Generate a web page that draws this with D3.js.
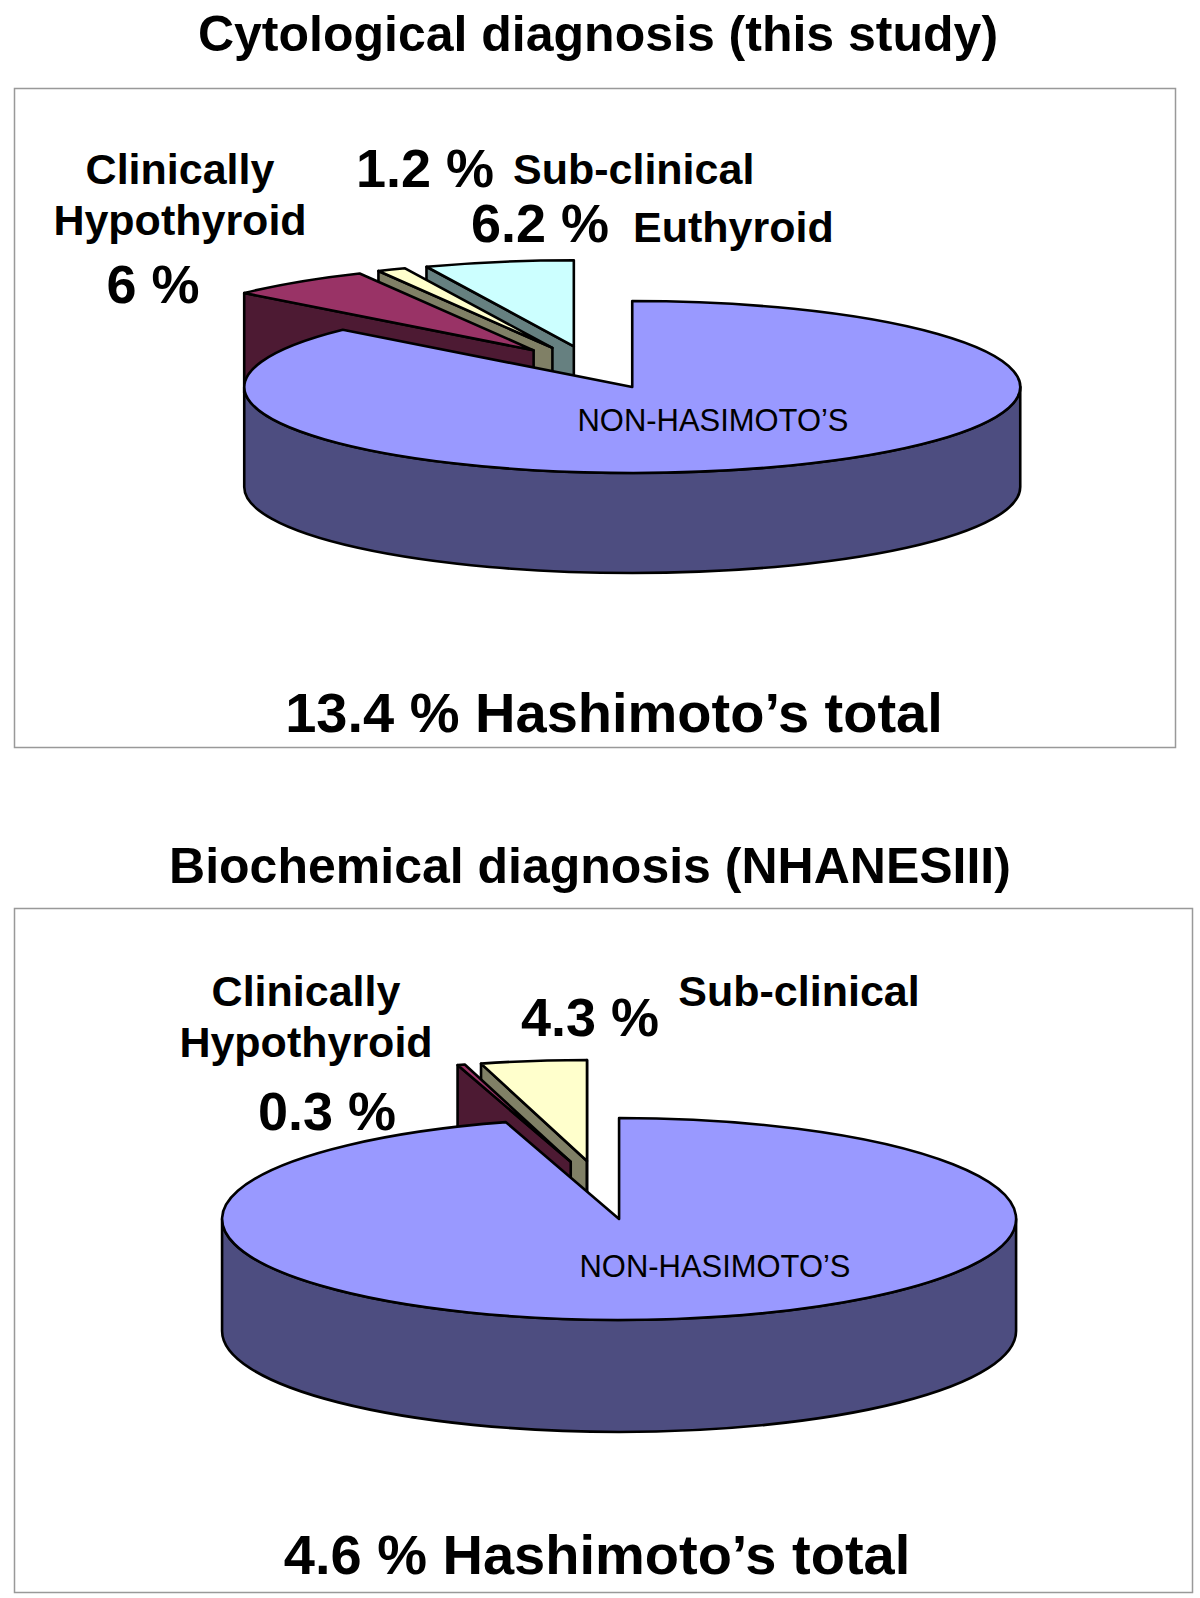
<!DOCTYPE html>
<html>
<head>
<meta charset="utf-8">
<script src="https://cdn.jsdelivr.net/npm/d3@7"></script>
<style>
  body { margin: 0; background: #fff; }
  text { font-family: "Liberation Sans", Arial, sans-serif; fill: #000; }
  .title, .big, .lab, .total { font-weight: bold; }
</style>
</head>
<body>
<div id="chart"></div>
<script>
// data
const topLabels = ["NON-HASIMOTO’S", "Clinically Hypothyroid", "Sub-clinical", "Euthyroid"];
const topValues = [86.6, 6, 1.2, 6.2];
const topColors = ["#9999ff", "#993366", "#ffffcc", "#ccffff"];

const bottomLabels = ["NON-HASIMOTO’S", "Clinically Hypothyroid", "Sub-clinical"];
const bottomValues = [95.4, 0.3, 4.3];
const bottomColors = ["#9999ff", "#993366", "#ffffcc"];

const W = 1200, H = 1598;

let svg = d3.select('#chart').append('svg')
  .attr('width', W)
  .attr('height', H);

// half-brightness colour for the sides
function darken(c) {
  let r = d3.rgb(c);
  return d3.rgb(r.r * 0.5, r.g * 0.5, r.b * 0.5).formatHex();
}

// draw one exploded 3d pie
function drawPie(g, values, colors, geo) {
  let arcs = d3.pie().sort(null).value(d => d)(values);
  let slices = arcs.map((a, i) => {
    let mid = (a.startAngle + a.endAngle) / 2;
    return {
      a0: a.startAngle, a1: a.endAngle, mid: mid,
      ox: geo.rx * geo.explode * Math.sin(mid),
      oy: -geo.ry * geo.explode * Math.cos(mid),
      color: colors[i]
    };
  });
  // back slices first
  slices.sort((p, q) => (-Math.cos(p.mid)) - (-Math.cos(q.mid)));

  const pt = (s, a, dz) => [geo.cx + s.ox + geo.rx * Math.sin(a), geo.cy + s.oy - geo.ry * Math.cos(a) + dz];
  const ctr = (s, dz) => [geo.cx + s.ox, geo.cy + s.oy + dz];
  const P = p => p[0].toFixed(2) + ',' + p[1].toFixed(2);

  slices.forEach(s => {
    let side = darken(s.color);
    let sg = g.append('g');
    // radial walls
    if (Math.sin(s.a0) < 0) {
      sg.append('path')
        .attr('d', `M${P(ctr(s,0))}L${P(pt(s,s.a0,0))}L${P(pt(s,s.a0,geo.depth))}L${P(ctr(s,geo.depth))}Z`)
        .attr('fill', side);
    }
    if (Math.sin(s.a1) > 0) {
      sg.append('path')
        .attr('d', `M${P(ctr(s,0))}L${P(pt(s,s.a1,0))}L${P(pt(s,s.a1,geo.depth))}L${P(ctr(s,geo.depth))}Z`)
        .attr('fill', side);
    }
    // outer wall, front half only
    let b0 = Math.max(s.a0, Math.PI / 2), b1 = Math.min(s.a1, 3 * Math.PI / 2);
    if (b1 > b0) {
      let lg = (b1 - b0) > Math.PI ? 1 : 0;
      sg.append('path')
        .attr('d', `M${P(pt(s,b0,0))}A${geo.rx},${geo.ry} 0 ${lg} 1 ${P(pt(s,b1,0))}` +
                   `L${P(pt(s,b1,geo.depth))}A${geo.rx},${geo.ry} 0 ${lg} 0 ${P(pt(s,b0,geo.depth))}Z`)
        .attr('fill', side);
    }
    // top face
    let lg = (s.a1 - s.a0) > Math.PI ? 1 : 0;
    sg.append('path')
      .attr('d', `M${P(ctr(s,0))}L${P(pt(s,s.a0,0))}A${geo.rx},${geo.ry} 0 ${lg} 1 ${P(pt(s,s.a1,0))}Z`)
      .attr('fill', s.color);
    sg.selectAll('path')
      .attr('stroke', '#000')
      .attr('stroke-width', 2.6)
      .attr('stroke-linejoin', 'round');
  });
}

function addText(g, x, y, txt, cls, size, anchor) {
  return g.append('text')
    .attr('class', cls)
    .attr('x', x)
    .attr('y', y)
    .attr('text-anchor', anchor || 'middle')
    .style('font-size', size + 'px')
    .text(txt);
}

// ---------- top chart ----------
let topG = svg.append('g');
topG.append('rect')
  .attr('x', 14.5).attr('y', 88.5)
  .attr('width', 1161).attr('height', 659)
  .attr('fill', 'none').attr('stroke', '#999').attr('stroke-width', 1.5);

addText(topG, 598, 51, "Cytological diagnosis (this study)", 'title', 50);

drawPie(topG, topValues, topColors, { cx: 592.6, cy: 367.4, rx: 388, ry: 86, depth: 100, explode: 0.25 });

addText(topG, 713, 431, topLabels[0], 'inner', 31)
  .attr('textLength', 271).attr('lengthAdjust', 'spacingAndGlyphs');

addText(topG, 180, 184, "Clinically", 'lab', 43);
addText(topG, 180, 235, "Hypothyroid", 'lab', 43);
addText(topG, 153, 303, topValues[1] + " %", 'big', 54);
addText(topG, 356, 187, topValues[2].toFixed(1) + " %", 'big', 54, 'start');
addText(topG, 513, 184, topLabels[2], 'lab', 43, 'start');
addText(topG, 471, 242, topValues[3].toFixed(1) + " %", 'big', 54, 'start');
addText(topG, 633, 242, topLabels[3], 'lab', 43, 'start');

addText(topG, 614, 732, d3.sum(topValues.slice(1)).toFixed(1) + " % Hashimoto’s total", 'total', 56);

// ---------- bottom chart ----------
let botG = svg.append('g');
botG.append('rect')
  .attr('x', 14.5).attr('y', 908.5)
  .attr('width', 1178).attr('height', 684)
  .attr('fill', 'none').attr('stroke', '#999').attr('stroke-width', 1.5);

addText(botG, 590, 883, "Biochemical diagnosis (NHANESIII)", 'title', 50);

drawPie(botG, bottomValues, bottomColors, { cx: 602.5, cy: 1190, rx: 397, ry: 101, depth: 112, explode: 0.29 });

addText(botG, 715, 1277, bottomLabels[0], 'inner', 31)
  .attr('textLength', 271).attr('lengthAdjust', 'spacingAndGlyphs');

addText(botG, 306, 1006, "Clinically", 'lab', 43);
addText(botG, 306, 1057, "Hypothyroid", 'lab', 43);
addText(botG, 327, 1130, bottomValues[1].toFixed(1) + " %", 'big', 54);
addText(botG, 590, 1036, bottomValues[2].toFixed(1) + " %", 'big', 54);
addText(botG, 799, 1006, bottomLabels[2], 'lab', 43);

addText(botG, 597, 1574, d3.sum(bottomValues.slice(1)).toFixed(1) + " % Hashimoto’s total", 'total', 56);
</script>
</body>
</html>
